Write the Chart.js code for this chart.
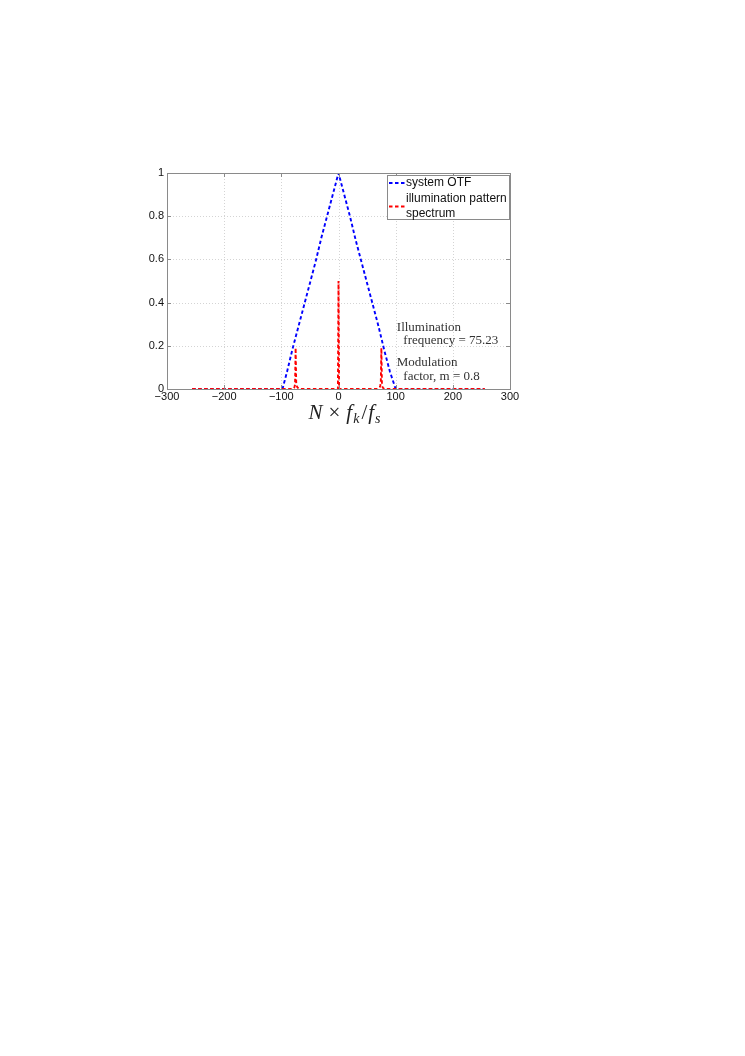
<!DOCTYPE html>
<html>
<head>
<meta charset="utf-8">
<script src="https://cdn.jsdelivr.net/npm/chart.js@4.4.1/dist/chart.umd.min.js"></script>
<style>
  html, body { margin: 0; padding: 0; background: #fff; }
  #wrap { position: absolute; left: 100px; top: 150px; width: 430px; height: 290px; }
</style>
</head>
<body>
<div id="wrap"><canvas id="otf" width="430" height="290"></canvas></div>
<script>
// ---- data ----
const otfX = [-256, -98, -90, -80, -70, -60, -50, -40, -30, -20, -10, 0, 10, 20, 30, 40, 50, 60, 70, 80, 90, 100, 255];
const otfY = [0, 0, 0.08, 0.19, 0.29, 0.39, 0.49, 0.59, 0.70, 0.80, 0.90, 1.0, 0.90, 0.80, 0.69, 0.59, 0.49, 0.39, 0.29, 0.18, 0.08, 0, 0];

const specX = [-256, -80, -78, -77, -76, -75, -74, -73, -72, -70, -68, -1, 0, 1, 68, 70, 72, 73, 74, 75, 76, 77, 78, 80, 256];
const specY = [0, 0, 0.005, 0.01, 0.02, 0.19, 0.03, 0.015, 0.008, 0.003, 0, 0, 0.5, 0, 0, 0.003, 0.008, 0.015, 0.03, 0.19, 0.02, 0.01, 0.005, 0, 0];

const xTicks = [-300, -200, -100, 0, 100, 200, 300];
const xTickLabels = ["\u2212300", "\u2212200", "\u2212100", "0", "100", "200", "300"];
const yTicks = [0, 0.2, 0.4, 0.6, 0.8, 1];
const yTickLabels = ["0", "0.2", "0.4", "0.6", "0.8", "1"];

const legendLabels = [["system OTF"], ["illumination pattern", "spectrum"]];
const noteLines = [
  ["Illumination", "  frequency = 75.23"],
  ["Modulation", "  factor, m = 0.8"]
];

const pts = (xs, ys) => xs.map((x, i) => ({ x, y: ys[i] }));

// grid, box, inward ticks (MATLAB look)
const frame = {
  id: "frame",
  beforeDatasetsDraw(c) {
    const { ctx, chartArea: a, scales: { x, y } } = c;
    ctx.save();
    ctx.strokeStyle = "#d4d4d4";
    ctx.lineWidth = 1;
    ctx.setLineDash([1, 2]);
    xTicks.forEach(v => {
      const px = Math.round(x.getPixelForValue(v)) + 0.5;
      ctx.beginPath(); ctx.moveTo(px, a.top); ctx.lineTo(px, a.bottom); ctx.stroke();
    });
    yTicks.forEach(v => {
      const py = Math.round(y.getPixelForValue(v)) + 0.5;
      ctx.beginPath(); ctx.moveTo(a.left, py); ctx.lineTo(a.right, py); ctx.stroke();
    });
    ctx.restore();
  },
  afterDatasetsDraw(c) {
    const { ctx, chartArea: a, scales: { x, y } } = c;
    ctx.save();
    ctx.strokeStyle = "#8a8a8a";
    ctx.lineWidth = 1;
    ctx.strokeRect(Math.round(a.left) + 0.5, Math.round(a.top) + 0.5,
                   Math.round(a.right - a.left), Math.round(a.bottom - a.top));
    ctx.beginPath();
    xTicks.forEach(v => {
      const px = Math.round(x.getPixelForValue(v)) + 0.5;
      ctx.moveTo(px, a.bottom); ctx.lineTo(px, a.bottom - 4);
      ctx.moveTo(px, a.top); ctx.lineTo(px, a.top + 4);
    });
    yTicks.forEach(v => {
      const py = Math.round(y.getPixelForValue(v)) + 0.5;
      ctx.moveTo(a.left, py); ctx.lineTo(a.left + 4, py);
      ctx.moveTo(a.right, py); ctx.lineTo(a.right - 4, py);
    });
    ctx.stroke();
    ctx.restore();
  }
};

// legend box, x label and notes
const extras = {
  id: "extras",
  afterDraw(c) {
    const { ctx, chartArea: a, scales: { x, y } } = c;
    ctx.save();

    // legend
    const lx = a.right - 123, ly = a.top + 2, lw = 122, lh = 44;
    ctx.fillStyle = "#fff";
    ctx.fillRect(lx, ly, lw, lh);
    ctx.strokeStyle = "#8a8a8a";
    ctx.lineWidth = 1;
    ctx.strokeRect(lx + 0.5, ly + 0.5, lw, lh);
    ctx.font = "12px 'Liberation Sans', Arial, sans-serif";
    ctx.fillStyle = "#111";
    ctx.textBaseline = "middle";
    const rows = [[ly + 8], [ly + 24, ly + 39]];
    c.data.datasets.forEach((ds, i) => {
      const r = rows[i];
      const mid = (r[0] + r[r.length - 1]) / 2;
      ctx.strokeStyle = ds.borderColor;
      ctx.lineWidth = 1.8;
      ctx.setLineDash([3.5, 2.5]);
      ctx.beginPath(); ctx.moveTo(lx + 2, mid); ctx.lineTo(lx + 18, mid); ctx.stroke();
      ctx.setLineDash([]);
      legendLabels[i].forEach((t, k) => ctx.fillText(t, lx + 19, r[k]));
    });

    // notes
    ctx.font = "13px 'Liberation Serif', 'DejaVu Serif', serif";
    ctx.fillStyle = "#333";
    ctx.textBaseline = "alphabetic";
    const nx = x.getPixelForValue(102);
    [[0.27, 0.21], [0.105, 0.04]].forEach((ys, i) => {
      noteLines[i].forEach((t, k) => ctx.fillText(t, nx, y.getPixelForValue(ys[k])));
    });

    // x axis label: N x f_k / f_s
    const big = 21, small = 14;
    const it = s => `italic ${s}px 'Liberation Serif', 'DejaVu Serif', serif`;
    const rm = s => `${s}px 'Liberation Serif', 'DejaVu Serif', serif`;
    // [text, font, drop, gap after]
    const parts = [
      ["N", it(big), 0, 6], ["\u00d7", rm(big), 0, 6], ["f", it(big), 0, 1], ["k", it(small), 4, 2],
      ["/", rm(big), 0, 1], ["f", it(big), 0, 1], ["s", it(small), 4, 0]
    ];
    let total = 0;
    parts.forEach(p => { ctx.font = p[1]; total += ctx.measureText(p[0]).width + p[3]; });
    let cx = (a.left + a.right) / 2 + 6 - total / 2;
    const base = a.bottom + 30;
    ctx.fillStyle = "#222";
    parts.forEach(p => {
      ctx.font = p[1];
      ctx.fillText(p[0], cx, base + p[2]);
      cx += ctx.measureText(p[0]).width + p[3];
    });
    ctx.restore();
  }
};

const tickFont = { family: "'Liberation Sans', Arial, sans-serif", size: 11 };

new Chart(document.getElementById("otf"), {
  type: "line",
  data: {
    datasets: [
      {
        label: "system OTF",
        data: pts(otfX, otfY),
        borderColor: "#0000ff",
        borderWidth: 1.9,
        borderDash: [3.5, 2.5],
        pointRadius: 0,
        tension: 0,
        order: 1
      },
      {
        label: "illumination pattern spectrum",
        data: pts(specX, specY),
        borderColor: "#ff0000",
        borderWidth: 1.9,
        borderDash: [3.5, 2.5],
        pointRadius: 0,
        tension: 0,
        order: 0
      }
    ]
  },
  options: {
    responsive: false,
    animation: false,
    layout: { padding: { left: 0, right: 20, top: 23, bottom: 0 } },
    plugins: { legend: { display: false }, tooltip: { enabled: false } },
    scales: {
      x: {
        type: "linear",
        min: -300, max: 300,
        afterBuildTicks: s => { s.ticks = xTicks.map(v => ({ value: v })); },
        afterFit: s => { s.height = 51; },
        grid: { display: false, drawTicks: false },
        border: { display: false },
        ticks: {
          font: tickFont, color: "#111", padding: 1, maxRotation: 0,
          callback: (v) => xTickLabels[xTicks.indexOf(v)]
        }
      },
      y: {
        min: 0, max: 1,
        afterBuildTicks: s => { s.ticks = yTicks.map(v => ({ value: v })); },
        afterFit: s => { s.width = 67; },
        grid: { display: false, drawTicks: false },
        border: { display: false },
        ticks: {
          font: tickFont, color: "#111", padding: 3,
          callback: (v) => yTickLabels[yTicks.findIndex(t => Math.abs(t - v) < 1e-9)]
        }
      }
    }
  },
  plugins: [frame, extras]
});
</script>
</body>
</html>
